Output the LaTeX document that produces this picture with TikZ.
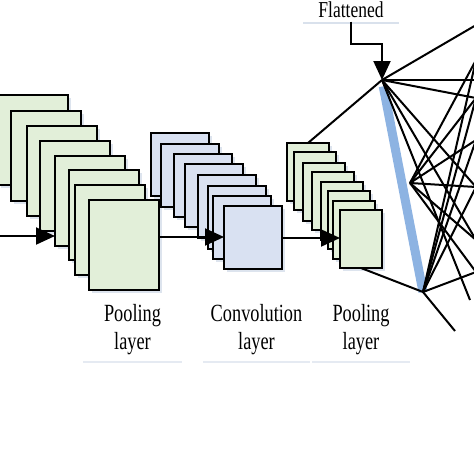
\documentclass[tikz,border=0pt]{standalone}
\usepackage{fontspec}
\setmainfont{Liberation Serif}
\usetikzlibrary{arrows.meta,shadows,calc}
\definecolor{gfill}{HTML}{E2EFD9}
\definecolor{bfill}{HTML}{D9E1F2}
\definecolor{barc}{HTML}{8DB3E2}
\definecolor{shadowc}{HTML}{B4C4DA}
\tikzset{
  rectbase/.style={draw=black, line width=1.9pt, inner sep=0pt, outer sep=0pt, anchor=north west,
    drop shadow={shadow xshift=3pt, shadow yshift=-3pt, fill=shadowc, opacity=0.45}},
  gbig/.style={rectbase, fill=gfill, minimum width=70pt, minimum height=90pt},
  bmid/.style={rectbase, fill=bfill, minimum width=58pt, minimum height=63pt},
  gsmall/.style={rectbase, fill=gfill, minimum width=42pt, minimum height=58pt},
  arr/.style={line width=2pt, -{Triangle[length=19pt,width=17pt]}},
  nn/.style={line width=2pt},
  lab/.style={fill=white, inner sep=0pt, minimum height=62pt,
    drop shadow={shadow xshift=0pt, shadow yshift=-2pt, fill=shadowc, opacity=0.35},
    font=\fontsize{18.3}{20.7}\selectfont},
  flab/.style={fill=white, inner sep=0pt, minimum width=96pt, minimum height=23pt,
    drop shadow={shadow xshift=0pt, shadow yshift=-2pt, fill=shadowc, opacity=0.5},
    font=\fontsize{17.5}{20}\selectfont}
}
\begin{document}
\begin{tikzpicture}[x=1pt,y=-1pt]
\useasboundingbox (0,0) rectangle (474,474);
\clip (0,0) rectangle (474,474);
% stack 1
\node[gbig] (p1a) at (-2,95) {};
\node[gbig] (p1b) at (11,111) {};
\node[gbig] (p1c) at (27,126) {};
\node[gbig] (p1d) at (40,141) {};
\node[gbig] (p1e) at (55,156) {};
\node[gbig] (p1f) at (69,170) {};
\node[gbig] (p1g) at (75,185) {};
\node[gbig] (p1h) at (89,200) {};
% stack 2
\node[bmid] (c2a) at (151,133) {};
\node[bmid] (c2b) at (161,144) {};
\node[bmid] (c2c) at (174,154) {};
\node[bmid] (c2d) at (185,164) {};
\node[bmid] (c2e) at (198,175) {};
\node[bmid] (c2f) at (208,186) {};
\node[bmid] (c2g) at (213,196) {};
\node[bmid] (c2h) at (224,206) {};
% stack 3
\node[gsmall] (p3a) at (287,143) {};
\node[gsmall] (p3b) at (294,152) {};
\node[gsmall] (p3c) at (303,163) {};
\node[gsmall] (p3d) at (312,172) {};
\node[gsmall] (p3e) at (321,182) {};
\node[gsmall] (p3f) at (328,191) {};
\node[gsmall] (p3g) at (333,201) {};
\node[gsmall] (p3h) at (340,210) {};
% arrows between stacks
\coordinate (in) at (-5,236);
\draw[arr] (in) -- (in -| p1e.west);
\coordinate (a2) at (159,237);
\draw[arr] (a2) -- (a2 -| c2h.west);
\coordinate (a3) at (282,238);
\draw[arr] (a3) -- (a3 -| p3h.west);
% flattened vector
\coordinate (L1) at (382,80);
\coordinate (L2) at (410,183);
\coordinate (L3) at (423,292);
\draw[line width=9pt, barc] ($(L1)!0.03!(L3)$) -- (L3);
\draw[nn] (p3a.north) -- (L1);
\draw[nn] (p3h.south) -- (L3);
% next layer (partly outside)
\coordinate (T0) at (495,14);
\coordinate (T1) at (495,80);
\coordinate (R1) at (476,60);
\coordinate (R2) at (476,98);
\coordinate (R3) at (476,140);
\coordinate (R4) at (476,187);
\coordinate (R5) at (476,240);
\coordinate (R6) at (476,272);
\coordinate (B) at (455,331);
\coordinate (B2) at (470,300);
\foreach \r in {T0,T1,R2,R4,R5,B2} \draw[nn] (L1) -- (\r);
\foreach \r in {R1,R2,R3,R4,R5,R6} \draw[nn] (L2) -- (\r);
\foreach \r in {R1,R2,R3,R4,R6,B} \draw[nn] (L3) -- (\r);
% labels
\node[lab, minimum width=99pt] (l1) at (132.5,330) {\scalebox{1}[1.35]{\begin{tabular}{@{}c@{}}Pooling\\layer\end{tabular}}};
\node[lab, minimum width=107pt] (l2) at (256.5,330) {\scalebox{1}[1.35]{\begin{tabular}{@{}c@{}}Convolution\\layer\end{tabular}}};
\node[lab, minimum width=98pt] (l3) at (361,330) {\scalebox{1}[1.35]{\begin{tabular}{@{}c@{}}Pooling\\layer\end{tabular}}};
\node[flab] (flat) at (351,10) {\scalebox{1}[1.3]{Flattened}};
\draw[arr] (flat.south) -- ++(0,22) -| (L1);
\end{tikzpicture}
\end{document}
